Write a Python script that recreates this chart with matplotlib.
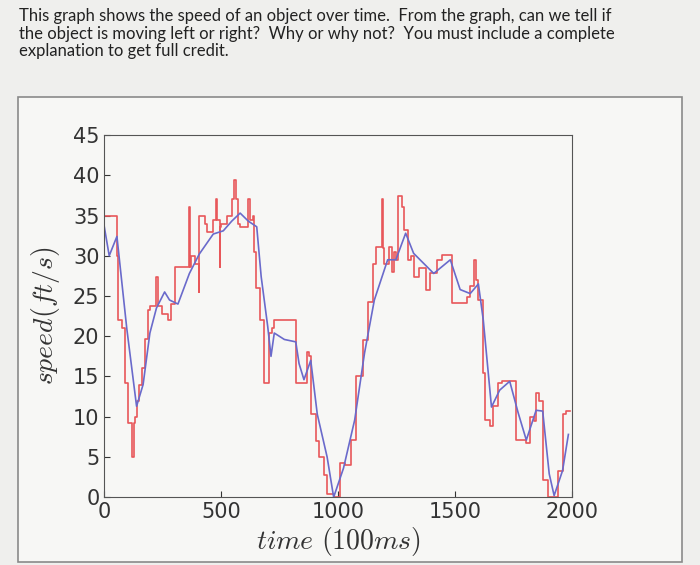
import matplotlib
matplotlib.use("Agg")
import matplotlib.pyplot as plt
from matplotlib.patches import Rectangle

plt.rcParams["mathtext.fontset"] = "cm"

question = ("This graph shows the speed of an object over time.  From the graph, can we tell if\n"
            "the object is moving left or right?  Why or why not?  You must include a complete\n"
            "explanation to get full credit.")

# red (raw) series, step levels: each value holds until the next x
red_x = [0, 54, 60, 75, 89, 103, 117, 128, 133, 138, 150, 160, 175, 188, 195, 223, 230, 245, 273, 287,
         301, 322, 362, 366, 371, 390, 403, 406, 430, 440, 466, 478, 483, 494, 497, 501, 525, 545, 555,
         562, 570, 581, 612, 616, 625, 635, 642, 650, 664, 685, 706, 716, 727, 819, 868, 876,
         883, 904, 918, 939, 953, 981, 1009,
         1028, 1056, 1077, 1106, 1127, 1148, 1162, 1186, 1190, 1198, 1219, 1230, 1240, 1247, 1258, 1272,
         1282, 1300, 1310, 1323, 1345, 1374, 1395, 1423, 1444, 1487, 1551, 1565, 1583, 1590, 1600, 1621,
         1628, 1649, 1663, 1684, 1700, 1762, 1805, 1819, 1840, 1847, 1860, 1875, 1896, 1939, 1960, 1974, 1990]
red_y = [35, 30, 22, 21, 14.2, 9.2, 5, 9.2, 10, 12, 14, 16, 19.6, 23.3, 23.7, 27.4, 23.7, 22.8, 22, 24,
         28.6, 28.6, 36, 28.6, 30, 29, 25.5, 34.9, 34, 33, 34.5, 37, 34.5, 28.6, 33.6, 34, 35, 37, 39.4,
         37, 34, 33.6, 33.6, 37, 34.5, 35, 30.5, 26, 22, 14.2, 20.4, 21, 22, 14.2, 18, 17.5,
         10.3, 7, 5, 2.8, 0.4, 0, 4.3,
         4, 7.1, 15, 19.5, 24.3, 29, 31.1, 37, 31, 29, 31.1, 28, 30.5, 29.5, 37.4, 36,
         33.2, 29.5, 30, 27.4, 28.5, 25.8, 27.8, 29.5, 30.1, 24.1, 24.9, 26.2, 29.5, 27, 24.5, 15.4,
         9.6, 8.8, 11.3, 14.2, 14.4, 7.1, 6.7, 10, 9.5, 12.9, 12, 2.1, 0, 3.3, 10.3, 10.7, 10.7]

# blue (smoothed) series
blue_x = [0, 21, 54, 96, 138, 166, 195, 223, 258, 279, 315, 364, 406, 466, 509, 545, 581, 616, 652, 671,
          699, 713, 727, 770, 819, 833, 854, 883, 911, 953, 981, 1023, 1071, 1113, 1155, 1212, 1247, 1289,
          1323, 1409, 1480, 1522, 1565, 1600, 1621, 1656, 1691, 1734, 1770, 1805, 1847, 1875, 1903, 1924,
          1960, 1985]
blue_y = [33.6, 30, 32.4, 21, 11.3, 14, 20.4, 23.5, 25.5, 24.5, 24, 27.8, 30.2, 32.7, 33.1, 34.3, 35.3,
          34.3, 33.6, 27.4, 21.2, 17.5, 20.4, 19.6, 19.3, 16.6, 14.6, 17, 10.3, 5, 0, 3.6, 9.6, 17.9, 24.5,
          29.5, 29.5, 32.8, 30.3, 27.8, 29.5, 25.8, 25.3, 26.5, 22, 11.2, 13.3, 14.4, 10.5, 7.1, 10.8, 10.7,
          2.9, 0.2, 3.3, 7.8]

fig = plt.figure(figsize=(7, 5.65), dpi=100)
fig.patch.set_facecolor("#efefed")

fig.text(0.027, 0.985, question, family="Lato", fontsize=12, va="top", ha="left",
         color="#222222", linespacing=1.1)

# the white chart frame, behind the axes
fig.patches.append(Rectangle((0.026, 0.005), 0.948, 0.823, transform=fig.transFigure,
                             facecolor="#f7f7f5", edgecolor="#8a8a8a", lw=1.2, zorder=-1))

ax = fig.add_axes([0.149, 0.12, 0.668, 0.641])
ax.set_facecolor("#f7f7f5")
ax.plot(red_x, red_y, color="#e8575a", lw=1.2, drawstyle="steps-post")
ax.plot(blue_x, blue_y, color="#6a6acb", lw=1.2)
ax.set_xlim(0, 2000)
ax.set_ylim(0, 45)
ax.set_xticks([0, 500, 1000, 1500, 2000])
ax.set_yticks(range(0, 50, 5))
ax.tick_params(labelsize=15, colors="#333333", direction="in", length=4)
for s in ax.spines.values():
    s.set_color("#555555")
ax.set_xlabel(r"$time\ (100ms)$", fontsize=20, color="#333333", labelpad=2)
ax.set_ylabel(r"$speed(ft/s)$", fontsize=20, color="#333333", labelpad=8)

fig.savefig("out.png", dpi=100, facecolor=fig.get_facecolor())
